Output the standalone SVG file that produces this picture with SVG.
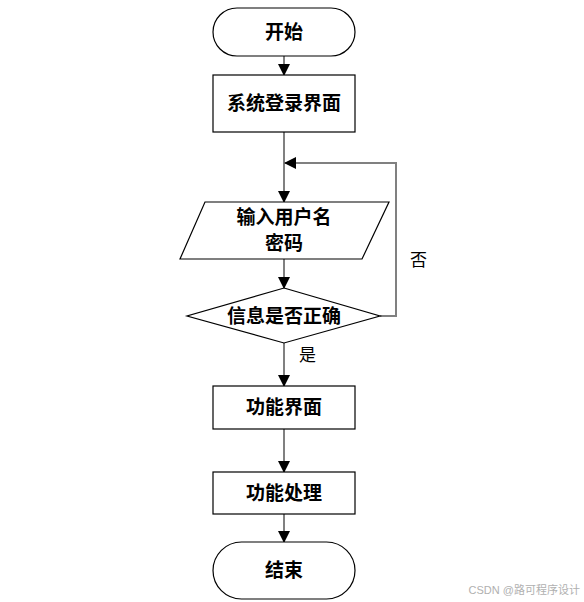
<svg xmlns="http://www.w3.org/2000/svg" width="584" height="602" viewBox="0 0 584 602">
<style>
.s{fill:#fff;stroke:#000;stroke-width:1.2}
.t{font-family:"Liberation Serif","Noto Sans CJK SC",serif;font-size:19px;font-weight:bold;fill:#000;text-anchor:middle}
.l{font-family:"Liberation Serif","Noto Sans CJK SC",serif;font-size:17px;fill:#000}
.c{fill:none;stroke:#808080;stroke-width:2}
</style>
<defs>
<marker id="a" markerWidth="12" markerHeight="12" refX="11" refY="6" orient="auto" markerUnits="userSpaceOnUse">
<path d="M0,0 L12,6 L0,12 Z" fill="#000"/>
</marker>
</defs>
<rect width="584" height="602" fill="#fff"/>
<g id="connectors">
<line class="c" x1="284" y1="56" x2="284" y2="75" marker-end="url(#a)"/>
<line class="c" x1="284" y1="132" x2="284" y2="202" marker-end="url(#a)"/>
<line class="c" x1="284" y1="259" x2="284" y2="288" marker-end="url(#a)"/>
<polyline class="c" points="380,316 396,316 396,163 285,163" marker-end="url(#a)"/>
<line class="c" x1="284" y1="343" x2="284" y2="386" marker-end="url(#a)"/>
<line class="c" x1="284" y1="429" x2="284" y2="472" marker-end="url(#a)"/>
<line class="c" x1="284" y1="514" x2="284" y2="542" marker-end="url(#a)"/>
<text class="l" x="410" y="266">否</text>
<text class="l" x="299" y="361">是</text>
</g>
<g id="start">
<rect class="s" x="213" y="8" width="142" height="48" rx="24"/>
<text class="t" x="284" y="39">开始</text>
</g>
<g id="login">
<rect class="s" x="213" y="75" width="142" height="57"/>
<text class="t" x="284" y="110">系统登录界面</text>
</g>
<g id="input">
<polygon class="s" points="205,202 389,202 362,259 180,259"/>
<text class="t" x="284" y="224">输入用户名</text>
<text class="t" x="284" y="250">密码</text>
</g>
<g id="check">
<polygon class="s" points="284,288 380,316 284,343 187,316"/>
<text class="t" x="284" y="323">信息是否正确</text>
</g>
<g id="func">
<rect class="s" x="213" y="386" width="142" height="43"/>
<text class="t" x="284" y="414">功能界面</text>
</g>
<g id="proc">
<rect class="s" x="213" y="472" width="142" height="42"/>
<text class="t" x="284" y="500">功能处理</text>
</g>
<g id="end">
<rect class="s" x="213" y="542" width="142" height="57" rx="28.5"/>
<text class="t" x="284" y="577">结束</text>
</g>
<text x="580" y="594" text-anchor="end" style="font-family:'Liberation Sans','Noto Sans CJK SC',sans-serif;font-size:11px;fill:#b0b0b0">CSDN @路可程序设计</text>
</svg>
